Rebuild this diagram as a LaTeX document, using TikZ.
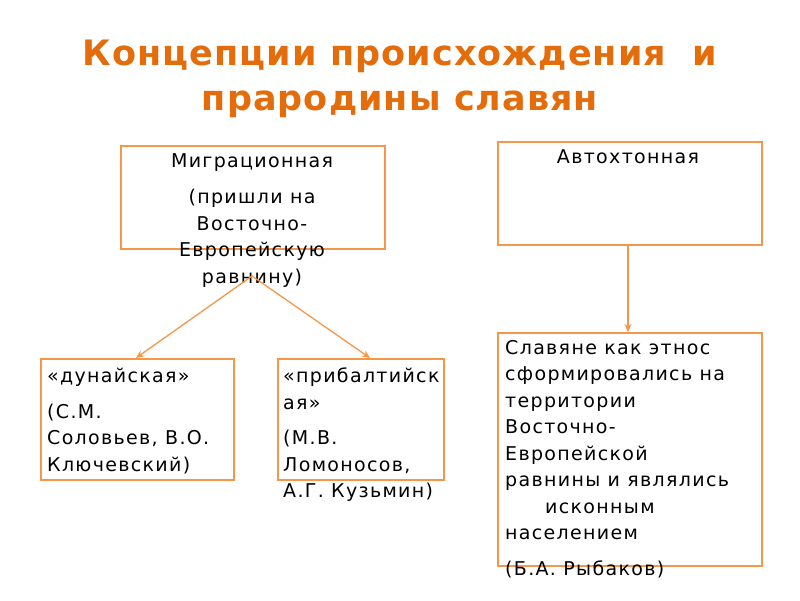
\documentclass[tikz,border=0pt]{standalone}
\usepackage{fontspec}
\usetikzlibrary{arrows.meta}
\setmainfont{DejaVu Sans}
\newfontfamily\wide[LetterSpace=7]{DejaVu Sans}
\newfontfamily\widet[LetterSpace=3]{DejaVu Sans}
\definecolor{ttl}{HTML}{E46C0A}
\definecolor{brd}{HTML}{F79646}
\begin{document}
\begin{tikzpicture}[x=1pt,y=-1pt,
  box/.style={draw=brd,line width=1.8pt,anchor=north west,inner sep=0},
  txt/.style={font=\wide\fontsize{19}{26.5}\selectfont,inner sep=0},
  arr/.style={draw=brd,line width=1.3pt,-{Stealth[length=8pt,width=7pt]}}]
\useasboundingbox (0,0) rectangle (800,600);
\node[font=\widet\fontsize{35}{45}\selectfont\bfseries,text=ttl,align=center] (title) at (400,79) {Концепции происхождения~ и\\прародины славян};
\node[box,minimum width=264,minimum height=103] (mig) at (120,145) {};
\node[box,minimum width=264,minimum height=103] (aut) at (497,141) {};
\node[box,minimum width=193,minimum height=121] (dun) at (40,358) {};
\node[box,minimum width=166,minimum height=121] (pri) at (277,358) {};
\node[box,minimum width=264,minimum height=233] (ryb) at (497,332) {};
\node[txt,align=center,anchor=north] (migt) at (252,153) {Миграционная\\[10pt](пришли на\\Восточно-\\Европейскую\\равнину)};
\node[txt,anchor=north] (autt) at (628,149) {Автохтонная};
\node[txt,align=left,anchor=north west] (dunt) at (47,368) {«дунайская»\\[9pt](С.М.\\Соловьев, В.О.\\Ключевский)};
\node[txt,align=left,anchor=north west] (prit) at (283,368) {«прибалтийск\\ая»\\[9pt](М.В.\\Ломоносов,\\А.Г. Кузьмин)};
\node[txt,align=left,anchor=north west] (rybt) at (505,340) {Славяне как этнос\\сформировались на\\территории\\Восточно-\\Европейской\\равнины и являлись\\\hspace*{40pt}исконным\\населением\\[9pt](Б.А. Рыбаков)};
\coordinate (src) at (252,276);
\draw[arr] (src) -- (dun.north -| 136,0);
\draw[arr] (src) -- (pri.north -| 370,0);
\draw[arr] (aut.south -| 628,0) -- (ryb.north -| 628,0);
\end{tikzpicture}
\end{document}
